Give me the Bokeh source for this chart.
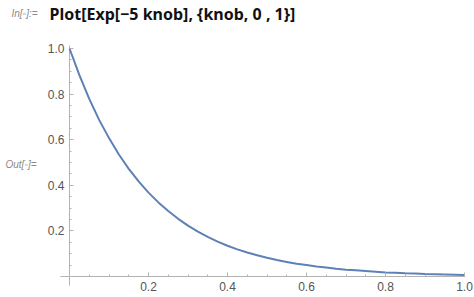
from bokeh.plotting import figure
from bokeh.models import Range1d, FixedTicker, Label
from bokeh.embed import file_html
from bokeh.resources import INLINE

# data
knob = [i * 0.025 for i in range(41)]
values = [1.000, 0.883, 0.779, 0.687, 0.607, 0.535, 0.472, 0.417, 0.368, 0.325,
          0.287, 0.253, 0.223, 0.197, 0.174, 0.153, 0.135, 0.119, 0.105, 0.093,
          0.082, 0.072, 0.064, 0.056, 0.050, 0.044, 0.039, 0.034, 0.030, 0.027,
          0.024, 0.021, 0.018, 0.016, 0.014, 0.013, 0.011, 0.010, 0.009, 0.008, 0.007]
major_ticks = [0.2, 0.4, 0.6, 0.8, 1.0]
minor_ticks = [round(0.05 * i, 2) for i in range(1, 21) if round(0.05 * i, 2) not in major_ticks]
tick_labels = {0.2: "0.2", 0.4: "0.4", 0.6: "0.6", 0.8: "0.8", 1.0: "1.0"}
x_axis_extent = [-0.023, 1.002]
y_axis_extent = [-0.04, 1.013]

AXIS = "#b3b3b3"

p = figure(width=474, height=297, output_backend="svg", toolbar_location=None,
           x_range=Range1d(-0.1747, 1.0253), y_range=Range1d(-0.0921, 1.2105),
           min_border_left=0, min_border_right=0, min_border_top=0, min_border_bottom=0)
p.outline_line_color = None
p.grid.visible = False
p.background_fill_color = "white"
p.border_fill_color = "white"

# axis lines crossing at the origin
p.segment(x0=[x_axis_extent[0], 0], y0=[0, y_axis_extent[0]],
          x1=[x_axis_extent[1], 0], y1=[0, y_axis_extent[1]],
          line_color=AXIS, line_width=1)

p.line(knob, values, line_color="#5E81B5", line_width=2)

for ax in (p.xaxis[0], p.yaxis[0]):
    ax.fixed_location = 0
    ax.ticker = FixedTicker(ticks=major_ticks, minor_ticks=minor_ticks)
    ax.major_label_overrides = tick_labels
    ax.axis_line_color = None
    ax.major_tick_line_color = AXIS
    ax.minor_tick_line_color = AXIS
    ax.major_tick_in = 4
    ax.major_tick_out = 0
    ax.minor_tick_in = 2
    ax.minor_tick_out = 0
    ax.major_label_text_font = "Liberation Sans"
    ax.major_label_text_font_size = "12px"
    ax.major_label_text_color = "#555555"
    ax.major_label_standoff = 5

p.yaxis[0].major_label_orientation = "horizontal"

p.add_layout(Label(x=11, y=284, x_units="screen", y_units="screen", text="In[◦]:=",
                   text_font="Liberation Sans", text_font_style="italic", text_font_size="10px",
                   text_color="#8a8a8a", text_baseline="middle"))
p.add_layout(Label(x=49, y=284, x_units="screen", y_units="screen",
                   text="Plot[Exp[−5 knob], {knob,  0 , 1}]",
                   text_font="Noto Sans", text_font_style="bold", text_font_size="16px",
                   text_color="#111111", text_baseline="middle"))
p.add_layout(Label(x=5, y=133, x_units="screen", y_units="screen", text="Out[◦]=",
                   text_font="Liberation Sans", text_font_style="italic", text_font_size="10px",
                   text_color="#8a8a8a", text_baseline="middle"))

open("out.html", "w").write(file_html(p, INLINE))
